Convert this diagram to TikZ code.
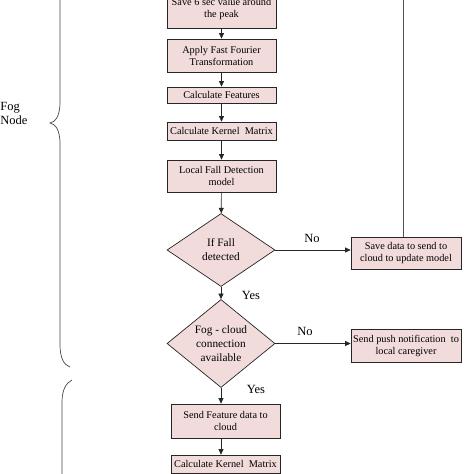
\documentclass[tikz,border=0pt]{standalone}
\usepackage{fontspec}
\setmainfont{Liberation Serif}
\usetikzlibrary{shapes.geometric,arrows.meta}
\definecolor{boxfill}{HTML}{F2DCDB}
\definecolor{edge}{HTML}{262626}
\begin{document}
\begin{tikzpicture}[x=1pt,y=-1pt,line width=0.7pt,
                stepbox/.style={draw=edge,fill=boxfill,minimum width=109pt,inner sep=1pt,align=center,font=\fontsize{10.3}{12}\selectfont},
                test/.style={diamond,draw=edge,fill=boxfill,minimum width=108pt,minimum height=73pt,inner sep=0pt,align=center,font=\fontsize{11.3}{14}\selectfont},
                flow/.style={draw=edge,-{Triangle[length=5.5pt,width=5pt]}},
                tag/.style={font=\fontsize{12.5}{14}\selectfont}]
                \useasboundingbox (0,0) rectangle (474,474);
                \clip (0,0) rectangle (474,474);
                % fog node steps
                \node[stepbox,minimum height=38pt] (peak) at (221.5,9) {Save 6 sec value around\\the peak};
                \node[stepbox,minimum height=33pt] (fft) at (221.5,55.5) {Apply Fast Fourier\\Transformation};
                \node[stepbox,minimum height=16pt] (feat) at (221.5,95) {Calculate Features};
                \node[stepbox,minimum height=18pt] (kern) at (221.5,131) {Calculate Kernel\ \ Matrix};
                \node[stepbox,minimum height=32pt] (local) at (221.5,176) {Local Fall Detection\\model};
                \node[test] (fall) at (221,250) {If Fall\\detected};
                \node[stepbox,minimum width=110pt,minimum height=32pt] (save) at (406,253) {Save data to send to\\cloud to update model};
                \node[test,minimum height=83pt] (conn) at (221,343.5) {Fog - cloud\\connection\\available};
                \node[stepbox,minimum width=110pt,minimum height=33pt] (push) at (406,345.5) {Send push notification\ \ to\\local caregiver};
                % cloud steps
                \node[stepbox,minimum height=34pt] (send) at (225.5,421) {Send Feature data to\\cloud};
                \node[stepbox,minimum height=18pt] (kern2) at (225.5,464) {Calculate Kernel\ \ Matrix};
                \coordinate (loop) at (403,-10);
                \coordinate (down) at (221,490);
                \draw[flow] (peak) -- (fft);
                \draw[flow] (fft) -- (feat);
                \draw[flow] (feat) -- (kern);
                \draw[flow] (kern) -- (local);
                \draw[flow] (local) -- (fall);
                \draw[flow] (fall) -- (conn);
                \draw[flow] (fall.east) -- (save.west |- fall.east);
                \draw[flow] (conn.east) -- (push.west |- conn.east);
                \draw[flow] (conn.south) -- (conn.south |- send.north);
                \draw[flow] (send.south -| conn.south) -- (kern2.north -| conn.south);
                \draw[edge!80,line width=1pt] (save.north -| loop) -- (loop);
                \draw[edge] (kern2.south -| down) -- (down);
                \node[tag] (no1) at (312,238) {No};
                \node[tag] (yes1) at (251,295) {Yes};
                \node[tag] (no2) at (305,331) {No};
                \node[tag] (yes2) at (256,389) {Yes};
                % braces
                \node[tag,anchor=west,align=left,inner sep=0pt] (fog) at (0,113) {Fog\\Node};
                \draw[edge!85] (60,-10) -- (60,102) .. controls (60,117) and (55,122) .. (50,123)
                    .. controls (55,124) and (60,129) .. (60,144) -- (60,345) .. controls (60,358) and (64,365) .. (70,367);
                \draw[edge!85] (72,380) .. controls (66,383) and (62,390) .. (62,402) -- (62,490);
            \end{tikzpicture}
\end{document}
